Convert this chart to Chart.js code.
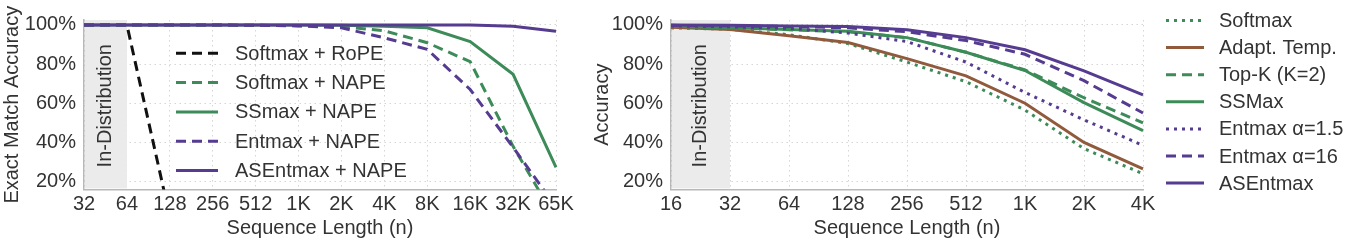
<!DOCTYPE html>
<html>
<head>
<meta charset="utf-8">
<script src="https://cdn.jsdelivr.net/npm/chart.js@4"></script>
<style>
  body { margin: 0; background: #fff; }
  #wrap { position: relative; width: 1346px; height: 240px; }
  canvas { position: absolute; top: 0; }
  #leftChart { left: 0; }
  #rightChart { left: 590px; }
</style>
</head>
<body>
<div id="wrap">
  <canvas id="leftChart" width="590" height="240"></canvas>
  <canvas id="rightChart" width="756" height="240"></canvas>
</div>
<script>
// ---- data ----
const yTicks = [20, 40, 60, 80, 100];

// left panel: exact match accuracy (%)
const leftLengths = ["32", "64", "128", "256", "512", "1K", "2K", "4K", "8K", "16K", "32K", "65K"];
const softmaxRope = [100, 100, 2, 0, 0, 0, 0, 0, 0, 0, 0, 0];
const softmaxNape = [100, 100, 100, 100, 99.8, 99.6, 99.2, 97, 90.9, 81.2, 38, 0.5];
const ssmaxNape = [100, 100, 100, 100, 100, 100, 99.8, 99.3, 98.5, 91.5, 74.8, 27.3];
const entmaxNape = [100, 100, 100, 100, 99.8, 99.5, 98.5, 93.4, 87.5, 67, 37.5, 7];
const asentmaxNape = [100, 100, 100, 100, 100, 100, 100, 100, 100, 100, 99.3, 96.7];

// right panel: accuracy (%)
const rightLengths = ["16", "32", "64", "128", "256", "512", "1K", "2K", "4K"];
const softmaxAcc = [98.5, 97.8, 95, 90.5, 81, 71, 56.5, 36.8, 24];
const adaptTempAcc = [98.8, 97.7, 94.5, 91, 82.8, 74, 60, 40, 26.5];
const topKAcc = [99.3, 98.5, 97.5, 96.5, 93.5, 86, 77, 62.8, 50];
const ssmaxAcc = [99.3, 98.5, 97.7, 96.8, 93.5, 86, 76.7, 60.3, 46];
const entmax15Acc = [99.5, 99, 98.3, 95.8, 91.5, 81, 65.5, 51.5, 38.5];
const entmax16Acc = [99.8, 99.5, 99.2, 98.5, 96.5, 92, 85, 71.5, 55];
const asentmaxAcc = [100, 99.8, 99.5, 99.2, 97.5, 93.5, 87.3, 76.5, 64.3];

const GREEN = "#3c8b58";
const PURPLE = "#553c90";
const BROWN = "#915a3c";
const BLACK = "#111111";
const DASH = [10, 6];
const DOT = [3, 5];
const FONT = "'Liberation Sans', Arial, sans-serif";

Chart.defaults.font.family = FONT;
Chart.defaults.font.size = 20;
Chart.defaults.color = "#333";

// grey "In-Distribution" band over the first interval of the x axis
const bandPlugin = {
  id: "inDistribution",
  beforeDatasetsDraw(chart) {
    const { ctx, chartArea, scales } = chart;
    const x0 = scales.x.getPixelForValue(0);
    const x1 = scales.x.getPixelForValue(1);
    ctx.save();
    ctx.fillStyle = "#ebebeb";
    ctx.fillRect(x0 + 1, chartArea.top, x1 - x0 - 1, chartArea.bottom - chartArea.top - 1);
    ctx.translate((x0 + x1) / 2, (chartArea.top + chartArea.bottom) / 2 + 1);
    ctx.rotate(-Math.PI / 2);
    ctx.font = "20px " + FONT;
    ctx.fillStyle = "#333";
    ctx.textAlign = "center";
    ctx.textBaseline = "middle";
    ctx.fillText("In-Distribution", 0, 0);
    ctx.restore();
  },
};

// legend drawn by hand so it can sit at the same spot as in the figure
const sideLegend = {
  id: "sideLegend",
  afterDraw(chart, args, opts) {
    const ctx = chart.ctx;
    chart.data.datasets.forEach((ds, i) => {
      const y = opts.y + i * opts.step;
      ctx.save();
      ctx.strokeStyle = ds.borderColor;
      ctx.lineWidth = ds.borderWidth;
      ctx.setLineDash(ds.borderDash || []);
      ctx.beginPath();
      ctx.moveTo(opts.x, y);
      ctx.lineTo(opts.x + opts.len, y);
      ctx.stroke();
      ctx.setLineDash([]);
      ctx.font = "20px " + FONT;
      ctx.fillStyle = "#333";
      ctx.textBaseline = "middle";
      ctx.fillText(ds.label, opts.x + opts.len + opts.gap, y + 1);
      ctx.restore();
    });
  },
};

function serie(label, data, color, dash) {
  return {
    label: label,
    data: data,
    borderColor: color,
    backgroundColor: color,
    borderWidth: 3,
    borderDash: dash,
    pointRadius: 0,
    tension: 0,
    fill: false,
  };
}

function buildOptions(yTitle, yWidth, padRight, legend) {
  return {
    responsive: false,
    animation: false,
    layout: { padding: { top: 17.7, right: padRight, left: 0, bottom: 0 } },
    plugins: {
      legend: { display: false },
      tooltip: { enabled: false },
      sideLegend: legend,
    },
    scales: {
      x: {
        type: "category",
        offset: false,
        grid: { color: "#d6d6d6", lineWidth: 1, drawTicks: false },
        border: { color: "#b8b8b8", width: 1.5, dash: [1.5, 3.5] },
        ticks: { autoSkip: false, maxRotation: 0, padding: 3 },
        title: { display: true, text: "Sequence Length (n)", padding: 0 },
        afterFit: (s) => { s.height = 50.6; },
      },
      y: {
        min: 16,
        max: 102.5,
        afterBuildTicks: (s) => { s.ticks = yTicks.map((v) => ({ value: v })); },
        grid: { color: "#d6d6d6", lineWidth: 1, drawTicks: false },
        border: { color: "#b8b8b8", width: 1.5, dash: [1.5, 3.5] },
        ticks: { padding: 8, callback: (v) => v + "%" },
        title: { display: true, text: yTitle, padding: 0 },
        afterFit: (s) => { s.width = yWidth; },
      },
    },
  };
}

// the last series in the list is drawn on top
function stackOrder(datasets) {
  datasets.forEach((ds, i) => { ds.order = datasets.length - i; });
  return datasets;
}

function graficaIzquierda() {
  const ctx = document.getElementById("leftChart");
  new Chart(ctx, {
    type: "line",
    data: {
      labels: leftLengths,
      datasets: stackOrder([
        serie("Softmax + RoPE", softmaxRope, BLACK, DASH),
        serie("Softmax + NAPE", softmaxNape, GREEN, DASH),
        serie("SSmax + NAPE", ssmaxNape, GREEN, []),
        serie("Entmax + NAPE", entmaxNape, PURPLE, DASH),
        serie("ASEntmax + NAPE", asentmaxNape, PURPLE, []),
      ]),
    },
    options: buildOptions("Exact Match Accuracy", 84, 34, { x: 176, y: 53.3, step: 29.3, len: 42, gap: 17 }),
    plugins: [bandPlugin, sideLegend],
  });
}

function graficaDerecha() {
  const ctx = document.getElementById("rightChart");
  new Chart(ctx, {
    type: "line",
    data: {
      labels: rightLengths,
      datasets: stackOrder([
        serie("Softmax", softmaxAcc, GREEN, DOT),
        serie("Adapt. Temp.", adaptTempAcc, BROWN, []),
        serie("Top-K (K=2)", topKAcc, GREEN, DASH),
        serie("SSMax", ssmaxAcc, GREEN, []),
        serie("Entmax α=1.5", entmax15Acc, PURPLE, DOT),
        serie("Entmax α=16", entmax16Acc, PURPLE, DASH),
        serie("ASEntmax", asentmaxAcc, PURPLE, []),
      ]),
    },
    options: buildOptions("Accuracy", 81, 203, { x: 576, y: 20.5, step: 27.1, len: 38, gap: 15 }),
    plugins: [bandPlugin, sideLegend],
  });
}

document.addEventListener("DOMContentLoaded", () => {
  graficaIzquierda();
  graficaDerecha();
});
</script>
</body>
</html>
